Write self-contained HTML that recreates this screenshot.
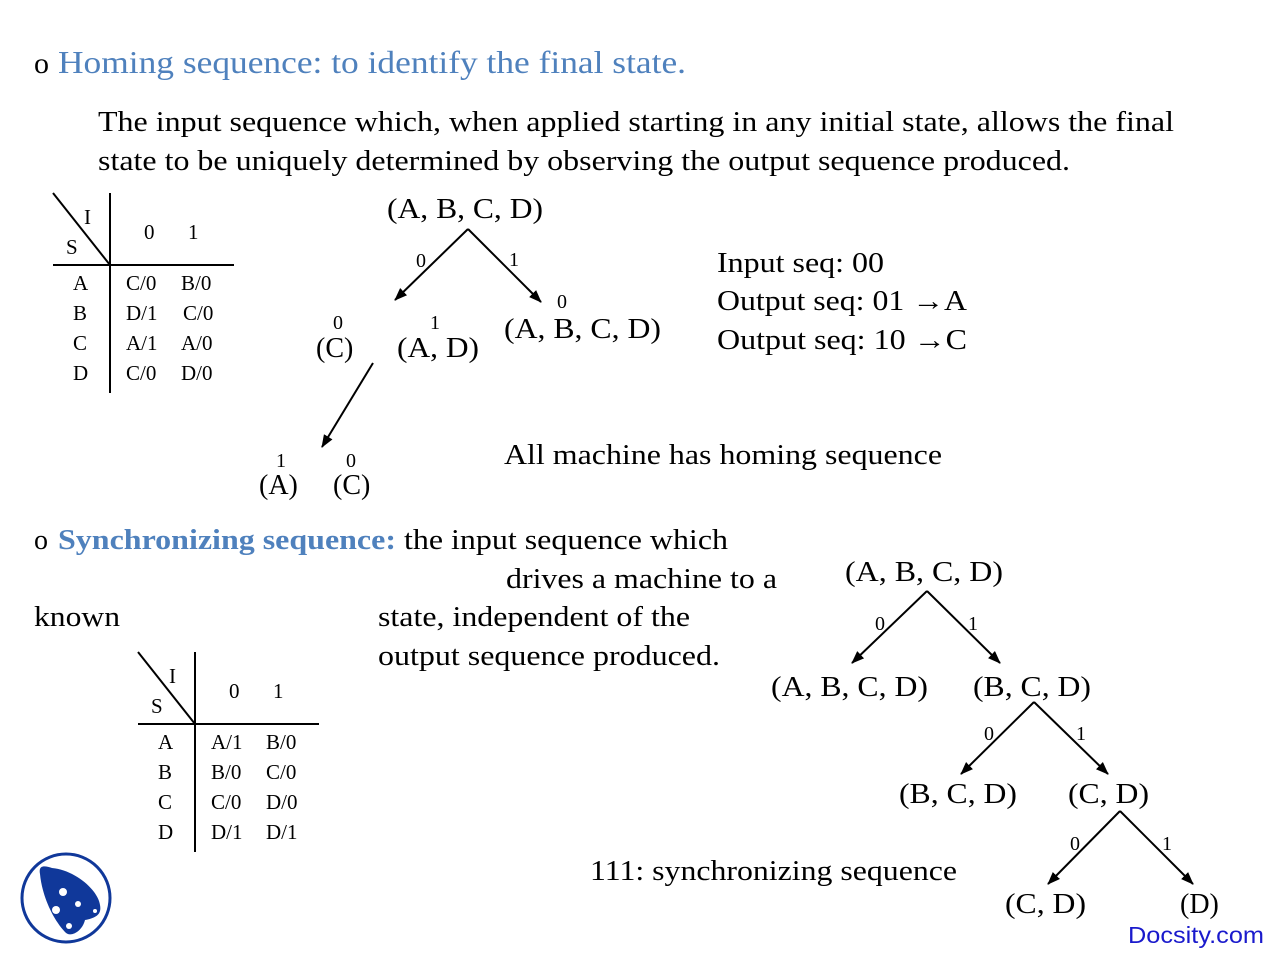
<!DOCTYPE html>
<html><head><meta charset="utf-8"><style>
html,body{margin:0;padding:0;background:#fff;}
svg{display:block;}
text{font-family:"Liberation Serif",serif;fill:#000;}
.t{font-size:28px;}
.s{font-size:20px;}
.m{font-size:21px;}
</style></head><body>
<svg width="1280" height="960" viewBox="0 0 1280 960" xmlns="http://www.w3.org/2000/svg">
<defs><marker id="a" markerWidth="13" markerHeight="10" refX="12" refY="5" orient="auto" markerUnits="userSpaceOnUse"><path d="M0,0 L13,5 L0,10 z" fill="#000"/></marker></defs>
<g stroke="#000" stroke-width="2" fill="none">
<line x1="468" y1="229" x2="395" y2="300" marker-end="url(#a)"/>
<line x1="468" y1="229" x2="541" y2="302" marker-end="url(#a)"/>
<line x1="373" y1="363" x2="322" y2="447" marker-end="url(#a)"/>
<line x1="927" y1="591" x2="852" y2="663" marker-end="url(#a)"/>
<line x1="927" y1="591" x2="1000" y2="663" marker-end="url(#a)"/>
<line x1="1034" y1="702" x2="961" y2="774" marker-end="url(#a)"/>
<line x1="1034" y1="702" x2="1108" y2="774" marker-end="url(#a)"/>
<line x1="1120" y1="811" x2="1048" y2="884" marker-end="url(#a)"/>
<line x1="1120" y1="811" x2="1193" y2="884" marker-end="url(#a)"/>
<line x1="53" y1="193" x2="110" y2="265"/>
<line x1="110" y1="193" x2="110" y2="393"/>
<line x1="53" y1="265" x2="234" y2="265"/>
<line x1="138" y1="652" x2="195" y2="724"/>
<line x1="195" y1="652" x2="195" y2="852"/>
<line x1="138" y1="724" x2="319" y2="724"/>
</g>
<text x="34" y="73" style="font-size:30px">o</text>
<text x="58" y="73" style="font-size:32px;fill:#4f81bd" textLength="628" lengthAdjust="spacingAndGlyphs">Homing sequence: to identify the final state.</text>
<text class="t" x="98" y="131" textLength="1076" lengthAdjust="spacingAndGlyphs">The input sequence which, when applied starting in any initial state, allows the final</text>
<text class="t" x="98" y="170" textLength="972" lengthAdjust="spacingAndGlyphs">state to be uniquely determined by observing the output sequence produced.</text>
<g class="m">
<text x="84" y="224">I</text><text x="66" y="254">S</text>
<text x="144" y="239">0</text><text x="188" y="239">1</text>
<text x="73" y="290">A</text><text x="126" y="290">C/0</text><text x="181" y="290">B/0</text>
<text x="73" y="320">B</text><text x="126" y="320">D/1</text><text x="183" y="320">C/0</text>
<text x="73" y="350">C</text><text x="126" y="350">A/1</text><text x="181" y="350">A/0</text>
<text x="73" y="380">D</text><text x="126" y="380">C/0</text><text x="181" y="380">D/0</text>
<text x="169" y="683">I</text><text x="151" y="713">S</text>
<text x="229" y="698">0</text><text x="273" y="698">1</text>
<text x="158" y="749">A</text><text x="211" y="749">A/1</text><text x="266" y="749">B/0</text>
<text x="158" y="779">B</text><text x="211" y="779">B/0</text><text x="266" y="779">C/0</text>
<text x="158" y="809">C</text><text x="211" y="809">C/0</text><text x="266" y="809">D/0</text>
<text x="158" y="839">D</text><text x="211" y="839">D/1</text><text x="266" y="839">D/1</text>
</g>
<g class="t">
<text x="387" y="218" textLength="156" lengthAdjust="spacingAndGlyphs">(A, B, C, D)</text>
<text x="504" y="338" textLength="157" lengthAdjust="spacingAndGlyphs">(A, B, C, D)</text>
<text x="316" y="357">(C)</text>
<text x="397" y="357" textLength="82" lengthAdjust="spacingAndGlyphs">(A, D)</text>
<text x="259" y="494">(A)</text><text x="333" y="494">(C)</text>
<text x="717" y="272" textLength="167" lengthAdjust="spacingAndGlyphs">Input seq: 00</text>
<text x="717" y="310" textLength="250" lengthAdjust="spacingAndGlyphs">Output seq: 01 →A</text>
<text x="717" y="349" textLength="250" lengthAdjust="spacingAndGlyphs">Output seq: 10 →C</text>
<text x="504" y="464" textLength="438" lengthAdjust="spacingAndGlyphs">All machine has homing sequence</text>
<text x="845" y="581" textLength="158" lengthAdjust="spacingAndGlyphs">(A, B, C, D)</text>
<text x="771" y="696" textLength="157" lengthAdjust="spacingAndGlyphs">(A, B, C, D)</text>
<text x="973" y="696" textLength="118" lengthAdjust="spacingAndGlyphs">(B, C, D)</text>
<text x="899" y="803" textLength="118" lengthAdjust="spacingAndGlyphs">(B, C, D)</text>
<text x="1068" y="803" textLength="81" lengthAdjust="spacingAndGlyphs">(C, D)</text>
<text x="1005" y="913" textLength="81" lengthAdjust="spacingAndGlyphs">(C, D)</text>
<text x="1180" y="913">(D)</text>
<text x="590" y="880" textLength="367" lengthAdjust="spacingAndGlyphs">111: synchronizing sequence</text>
<text x="34" y="549">o</text>
<text x="58" y="549" style="fill:#4f81bd;font-weight:bold" textLength="338" lengthAdjust="spacingAndGlyphs">Synchronizing sequence:</text>
<text x="404" y="549" textLength="324" lengthAdjust="spacingAndGlyphs">the input sequence which</text>
<text x="506" y="588" textLength="271" lengthAdjust="spacingAndGlyphs">drives a machine to a</text>
<text x="34" y="626" textLength="86" lengthAdjust="spacingAndGlyphs">known</text>
<text x="378" y="626" textLength="312" lengthAdjust="spacingAndGlyphs">state, independent of the</text>
<text x="378" y="665" textLength="342" lengthAdjust="spacingAndGlyphs">output sequence produced.</text>
</g>
<g class="s">
<text x="416" y="267">0</text><text x="509" y="266">1</text>
<text x="557" y="308">0</text><text x="333" y="329">0</text><text x="430" y="329">1</text>
<text x="276" y="467">1</text><text x="346" y="467">0</text>
<text x="875" y="630">0</text><text x="968" y="630">1</text>
<text x="984" y="740">0</text><text x="1076" y="740">1</text>
<text x="1070" y="850">0</text><text x="1162" y="850">1</text>
</g>
<text x="1128" y="943" style="font-family:'Liberation Sans',sans-serif;font-size:23px;fill:#1a1acc" textLength="136" lengthAdjust="spacingAndGlyphs">Docsity.com</text>
<circle cx="66" cy="898" r="44" fill="none" stroke="#10389a" stroke-width="3"/>
<path d="M40,874 C38,864 46,866 52,868 C75,870 98,890 100,905 C102,915 95,918 85,920 C82,932 70,938 65,932 C52,918 42,895 40,874 z" fill="#10389a"/>
<g fill="#fff"><circle cx="63" cy="892" r="4"/><circle cx="78" cy="904" r="3"/><circle cx="56" cy="910" r="4"/><circle cx="95" cy="911" r="2"/><circle cx="69" cy="926" r="3"/></g>
</svg>
</body></html>
